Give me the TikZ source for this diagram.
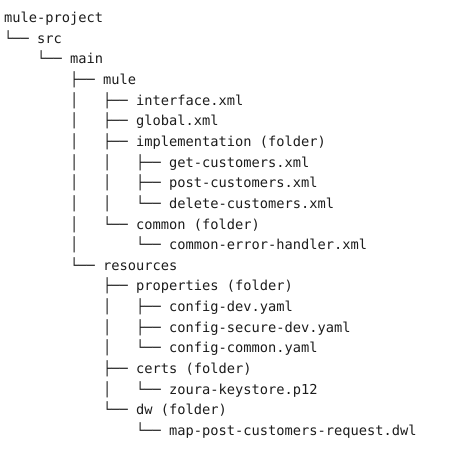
\documentclass[tikz,border=0pt]{standalone}
\usepackage{fontspec}
\newfontfamily\treefont{DejaVu Sans Mono}
\definecolor{treeink}{RGB}{28,28,28}
\tikzset{
  treeline/.style={anchor=base west, inner sep=0pt, outer sep=0pt, text=treeink,
    font=\treefont\fontsize{13.7pt}{16pt}\selectfont}
}
\begin{document}
\begin{tikzpicture}[x=1pt,y=1pt]
\useasboundingbox (0,0) rectangle (474,-456);
\def\lx{4.2}
\node[treeline] (l1)  at (\lx,-22.5)  {mule-project};
\node[treeline] (l2)  at (\lx,-43.15) {└──~src};
\node[treeline] (l3)  at (\lx,-63.8)  {~~~~└──~main};
\node[treeline] (l4)  at (\lx,-84.45) {~~~~~~~~├──~mule};
\node[treeline] (l5)  at (\lx,-105.1) {~~~~~~~~│~~~├──~interface.xml};
\node[treeline] (l6)  at (\lx,-125.75){~~~~~~~~│~~~├──~global.xml};
\node[treeline] (l7)  at (\lx,-146.4) {~~~~~~~~│~~~├──~implementation~(folder)};
\node[treeline] (l8)  at (\lx,-167.05){~~~~~~~~│~~~│~~~├──~get-customers.xml};
\node[treeline] (l9)  at (\lx,-187.7) {~~~~~~~~│~~~│~~~├──~post-customers.xml};
\node[treeline] (l10) at (\lx,-208.35){~~~~~~~~│~~~│~~~└──~delete-customers.xml};
\node[treeline] (l11) at (\lx,-229.0) {~~~~~~~~│~~~└──~common~(folder)};
\node[treeline] (l12) at (\lx,-249.65){~~~~~~~~│~~~~~~~└──~common-error-handler.xml};
\node[treeline] (l13) at (\lx,-270.3) {~~~~~~~~└──~resources};
\node[treeline] (l14) at (\lx,-290.95){~~~~~~~~~~~~├──~properties~(folder)};
\node[treeline] (l15) at (\lx,-311.6) {~~~~~~~~~~~~│~~~├──~config-dev.yaml};
\node[treeline] (l16) at (\lx,-332.25){~~~~~~~~~~~~│~~~├──~config-secure-dev.yaml};
\node[treeline] (l17) at (\lx,-352.9) {~~~~~~~~~~~~│~~~└──~config-common.yaml};
\node[treeline] (l18) at (\lx,-373.55){~~~~~~~~~~~~├──~certs~(folder)};
\node[treeline] (l19) at (\lx,-394.2) {~~~~~~~~~~~~│~~~└──~zoura-keystore.p12};
\node[treeline] (l20) at (\lx,-414.85){~~~~~~~~~~~~└──~dw~(folder)};
\node[treeline] (l21) at (\lx,-435.5) {~~~~~~~~~~~~~~~~└──~map-post-customers-request.dwl};
\end{tikzpicture}
\end{document}
